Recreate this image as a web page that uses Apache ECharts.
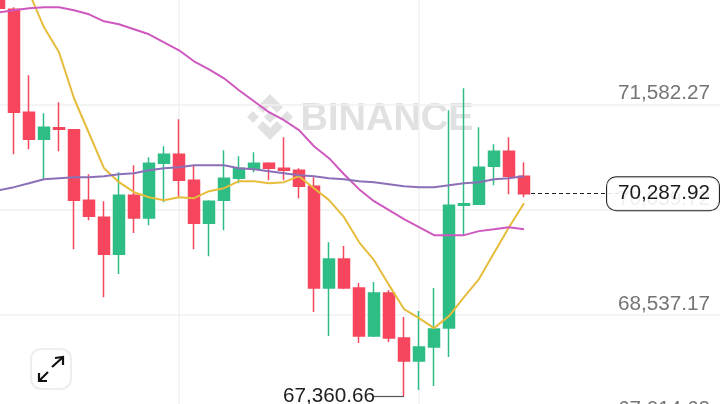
<!DOCTYPE html>
<html><head><meta charset="utf-8">
<style>html,body{margin:0;padding:0;background:#fff}#c{width:720px;height:404px}</style>
<script src="https://cdn.jsdelivr.net/npm/echarts@6/dist/echarts.min.js"></script></head>
<body><div id="c"></div>
<script>
const opens  = [73375,72956,71467,71077,71243,71214,70195,69949,69414,70267,69935,70729,70860,70484,69862,70195,70513,70657,70729,70657,70628,70397,68923,69342,68923,68229,68850,68200,67867,68070,68345,70122,70137,70686,70903,70542];
const closes = [72970,71467,71077,71250,71221,70195,69963,69414,70267,69935,70729,70860,70484,69862,70180,70513,70657,70729,70657,70628,70397,68923,69342,68923,68229,68850,68200,67867,68070,68330,70122,70144,70672,70903,70542,70287.92];
const highs  = [73519,72985,72002,71452,71611,71221,70570,70180,70599,70700,70816,70975,71365,70700,70195,70917,70831,70889,70744,71105,70657,70527,69587,69530,68995,69010,68894,68503,68590,68923,71496,71814,71250,71004,71105,70744];
const lows   = [72826,70860,70932,70498,70903,69486,69906,68792,69125,69718,69833,70166,70238,69486,69385,69761,70440,70599,70484,70484,70224,68576,68229,68908,68128,68214,68142,67360.66,67448,67506,67925,69689,70137,70412,70282,70238];
const maYellow = [null,73736,73201,72695,72334,71669,71163,70657,70455,70310,70238,70195,70238,70224,70325,70368,70469,70469,70440,70455,70542,70368,70195,69949,69588,69327,68966,68619,68489,68344,68518,68792,69053,69429,69804,70151];
const maPink   = [72912,72941,72970,72984,72984,72941,72883,72782,72739,72667,72594,72479,72363,72204,72088,71958,71785,71626,71467,71351,71207,70975,70802,70570,70354,70180,70050,69920,69804,69689,69689,69689,69747,69775,69804,69775];
const maPurple = [70339,70383,70440,70498,70513,70527,70527,70542,70570,70585,70628,70657,70672,70700,70700,70700,70657,70643,70614,70585,70556,70542,70513,70498,70469,70455,70426,70397,70383,70383,70412,70440,70455,70498,70513,70542];
const priceTicks = [67014.62,68537.17,70059.72,71582.27];
const lastPrice = 70287.92;
const lowPrice = 67360.66;
const categories = Array.from({length:49},(_,i)=>String(i));
const RED='#F6465D', GREEN='#2EBD85', FONT='"Liberation Sans",sans-serif';
const fmt = v => v.toLocaleString('en-US',{minimumFractionDigits:2,maximumFractionDigits:2});
const line = (data,color)=>({type:'line',data,symbol:'none',smooth:false,z:3,silent:true,lineStyle:{color,width:2},emphasis:{disabled:true}});
const wm='#E1E1E1';
const chart = echarts.init(document.getElementById('c'),null,{renderer:'canvas'});
chart.setOption({
  animation:false,
  backgroundColor:'#fff',
  grid:{left:-8.5,width:735,top:-1,height:421,containLabel:false,outerBoundsMode:'none'},
  xAxis:{type:'category',data:categories,boundaryGap:true,
    axisLine:{show:false},axisTick:{show:false},axisLabel:{show:false},
    splitLine:{show:true,alignWithLabel:true,interval:(i)=>i===12||i===28,lineStyle:{color:'#F1F1F1',width:1.5}}},
  yAxis:{type:'value',position:'right',min:67014.62,max:73104.82,scale:true,
    axisLine:{show:false},axisTick:{show:false,customValues:priceTicks},
    axisLabel:{inside:true,customValues:priceTicks,margin:16.5,color:'#757575',fontFamily:FONT,fontSize:20.7,verticalAlign:'bottom',padding:[0,0,0,0],formatter:fmt},
    splitLine:{show:true,lineStyle:{color:'#F0F0F0',width:1.5}}},
  graphic:[
    {type:'polygon',z:-1,shape:{points:[[270,94],[283,107],[277,113],[270,106],[263,113],[257,107]]},style:{fill:wm}},
    {type:'polygon',z:-1,shape:{points:[[270,140],[283,127],[277,121],[270,128],[263,121],[257,127]]},style:{fill:wm}},
    {type:'polygon',z:-1,shape:{points:[[270,111],[276,117],[270,123],[264,117]]},style:{fill:wm}},
    {type:'polygon',z:-1,shape:{points:[[253,111],[259,117],[253,123],[247,117]]},style:{fill:wm}},
    {type:'polygon',z:-1,shape:{points:[[287,111],[293,117],[287,123],[281,117]]},style:{fill:wm}},
    {type:'text',z:-1,x:300.5,y:101,style:{text:'BINANCE',fill:wm,font:'bold 38px "Liberation Sans",sans-serif'}},
    {type:'rect',z:10,shape:{x:31,y:349,width:40,height:40,r:10},style:{fill:'#fff',stroke:'#EEEEEE',lineWidth:2}},
    {type:'polyline',z:11,shape:{points:[[52,367],[62,358]]},style:{stroke:'#111',lineWidth:2.2,fill:null}},
    {type:'polyline',z:11,shape:{points:[[55,358],[63,357],[63,365]]},style:{stroke:'#111',lineWidth:2.2,fill:null}},
    {type:'polyline',z:11,shape:{points:[[39,381],[48,372]]},style:{stroke:'#111',lineWidth:2.2,fill:null}},
    {type:'polyline',z:11,shape:{points:[[39,373],[39,381],[47,381]]},style:{stroke:'#111',lineWidth:2.2,fill:null}}
  ],
  series:[
    {type:'candlestick',z:2,silent:true,barWidth:12,
      data:opens.map((o,i)=>[o,closes[i],lows[i],highs[i]]),
      itemStyle:{color:GREEN,color0:RED,borderColor:GREEN,borderColor0:RED,borderWidth:1.5},
      markLine:{silent:true,symbol:'none',z:1,animation:false,
        data:[
          [{coord:[27,lowPrice],label:{show:true,position:'end',formatter:()=>fmt(lowPrice),color:'#222',fontFamily:FONT,fontSize:20.7,distance:0,padding:[8,-1,0,0]},lineStyle:{color:'#555',width:1.2,type:'solid'}},{coord:[25,lowPrice]}],
          [{coord:[35,lastPrice],label:{show:false},lineStyle:{color:'#222',width:1,type:[4,3]}},{coord:[42,lastPrice]}]
        ]},
      markPoint:{silent:true,symbol:'circle',symbolSize:0,z:6,animation:false,
        data:[{coord:[44,lastPrice],label:{show:true,position:'inside',offset:[4,0],formatter:()=>fmt(lastPrice),color:'#1a1a1a',fontFamily:FONT,fontSize:20.7,
          backgroundColor:'rgba(255,255,255,0.88)',borderColor:'#222',borderWidth:1,borderRadius:9,padding:[7,9,5,11]}}]}
    },
    line(maYellow,'#E6BC3C'),
    line(maPink,'#CF58BF'),
    line(maPurple,'#8C70B7')
  ]
});
</script></body></html>
